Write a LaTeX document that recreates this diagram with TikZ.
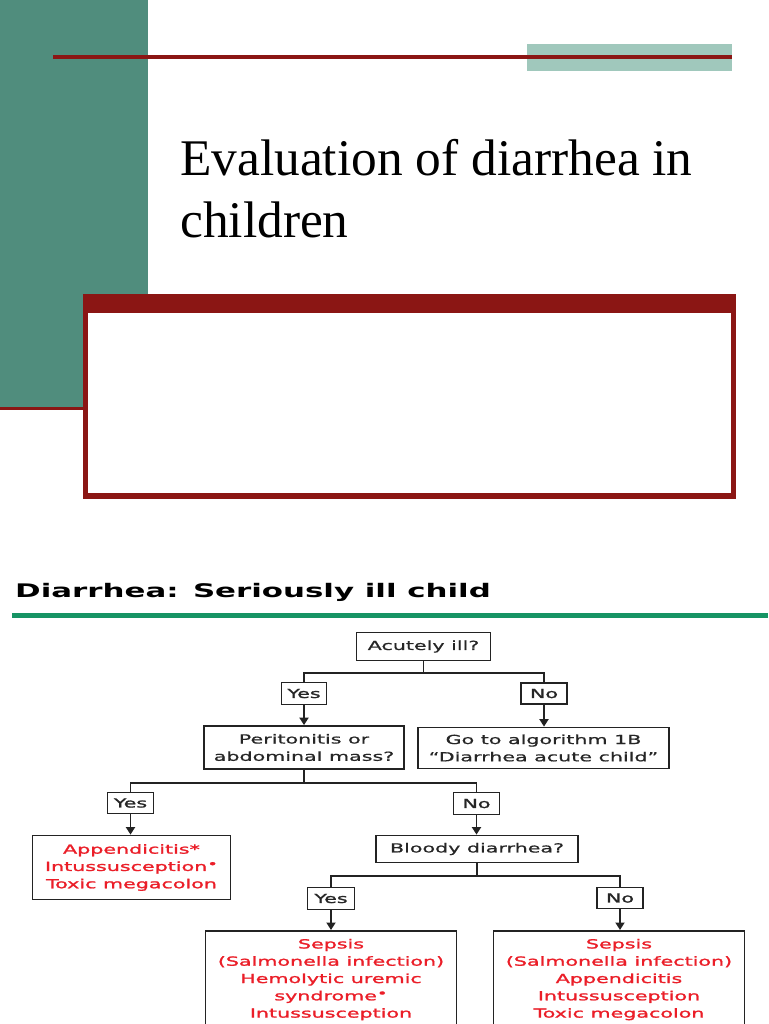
\documentclass[tikz,border=0pt]{standalone}
\usepackage{fontspec}
\setmainfont{Liberation Serif}
\newfontfamily\vs[FakeStretch=1.65]{DejaVu Sans}
\newfontfamily\vsm[FakeStretch=1.65,FakeBold=0.8]{DejaVu Sans}
\newfontfamily\vsh[FakeStretch=1.65,FakeBold=1.6]{DejaVu Sans}
\usetikzlibrary{arrows.meta}
\definecolor{tealA}{RGB}{80,141,125}
\definecolor{tealL}{RGB}{160,200,188}
\definecolor{dred}{RGB}{139,22,20}
\definecolor{gline}{RGB}{22,148,100}
\definecolor{redt}{RGB}{235,30,40}
\definecolor{boxc}{RGB}{35,35,35}
\newcommand{\rdot}{\raisebox{3.2pt}{\fontsize{11}{11}\selectfont•}}
\tikzset{
  fbox/.style={draw=boxc, line width=1.8pt, inner sep=0pt, align=center,
    font=\vsm\fontsize{12.5}{17.3}\selectfont, text=black!85},
  lbl/.style={fbox, font=\vsh\fontsize{12.5}{17.3}\selectfont},
  redbox/.style={fbox, text=redt, font=\vsh\fontsize{12.5}{17.3}\selectfont},
  conn/.style={draw=boxc, line width=1.8pt},
  arr/.style={conn, -{Triangle[length=7.5pt,width=9pt]}}
}
\begin{document}
\begin{tikzpicture}[x=1pt,y=-1pt]
\useasboundingbox (0,0) rectangle (768,1024);
\clip (0,0) rectangle (768,1024);
\fill[white] (0,0) rectangle (768,1024);
% slide decoration
\fill[tealA] (0,0) rectangle (148,408);
\fill[dred] (0,406.5) rectangle (84,410);
\fill[tealL] (527,44) rectangle (732,71);
\fill[dred] (53,55) rectangle (732,59);
\fill[dred] (83,294) rectangle (736,499);
\fill[white] (88,313) rectangle (731,493);
\node[anchor=base west, inner sep=0pt, font=\fontsize{51.4}{61}\selectfont] (t1) at (180,176) {Evaluation of diarrhea in};
\node[anchor=base west, inner sep=0pt, font=\fontsize{51.4}{61}\selectfont] (t2) at (180,237) {children};
% algorithm heading
\node[anchor=base west, inner sep=0pt, font=\vs\bfseries\fontsize{18.7}{22}\selectfont] (head) at (15,597) {Diarrhea: Seriously ill child};
\fill[gline] (12,612.5) rectangle (768,617.5);
% flowchart
\node[fbox, minimum width=134pt, minimum height=28pt] (acute) at (423.5,646.5) {Acutely ill?};
\node[lbl, minimum width=45pt, minimum height=22pt] (yes1) at (304,693.5) {Yes};
\node[lbl, minimum width=46pt, minimum height=21pt] (no1) at (544,693.5) {No};
\node[fbox, minimum width=200pt, minimum height=43pt] (perit) at (304,747.5) {Peritonitis or\\abdominal mass?};
\node[fbox, minimum width=251pt, minimum height=41pt] (goto) at (543.5,748) {Go to algorithm 1B\\“Diarrhea acute child”};
\coordinate (j1) at (423.5,673);
\draw[conn] (acute.south) -- (j1);
\draw[conn] (yes1.north) |- (j1);
\draw[conn] (no1.north) |- (j1);
\draw[arr] (yes1.south) -- (yes1.south |- perit.north);
\draw[arr] (no1.south) -- (no1.south |- goto.north);

\node[lbl, minimum width=46pt, minimum height=21pt] (yes2) at (130.5,803) {Yes};
\node[lbl, minimum width=46pt, minimum height=22pt] (no2) at (476.5,803.5) {No};
\coordinate (j2) at (304,783);
\draw[conn] (perit.south) -- (j2);
\draw[conn] (yes2.north) |- (j2);
\draw[conn] (no2.north) |- (j2);
\node[redbox, minimum width=198pt, minimum height=64pt] (app) at (131.5,867.5) {Appendicitis*\\Intussusception\rdot\\Toxic megacolon};
\node[fbox, minimum width=202pt, minimum height=27pt] (bloody) at (477,849) {Bloody diarrhea?};
\draw[arr] (yes2.south) -- (yes2.south |- app.north);
\draw[arr] (no2.south) -- (no2.south |- bloody.north);

\node[lbl, minimum width=47pt, minimum height=22pt] (yes3) at (331,898.5) {Yes};
\node[lbl, minimum width=46pt, minimum height=21pt] (no3) at (620,898) {No};
\coordinate (j3) at (477,876);
\draw[conn] (bloody.south) -- (j3);
\draw[conn] (yes3.north) |- (j3);
\draw[conn] (no3.north) |- (j3);
\node[redbox, anchor=north, minimum width=251pt, inner ysep=8pt, text depth=30pt] (lres) at (331,930)
  {Sepsis\\(Salmonella infection)\\Hemolytic uremic\\syndrome\rdot\\Intussusception\\Toxic megacolon};
\node[redbox, anchor=north, minimum width=251pt, inner ysep=8pt, text depth=30pt] (rres) at (619,930)
  {Sepsis\\(Salmonella infection)\\Appendicitis\\Intussusception\\Toxic megacolon};
\draw[arr] (yes3.south) -- (yes3.south |- lres.north);
\draw[arr] (no3.south) -- (no3.south |- rres.north);
\end{tikzpicture}
\end{document}
